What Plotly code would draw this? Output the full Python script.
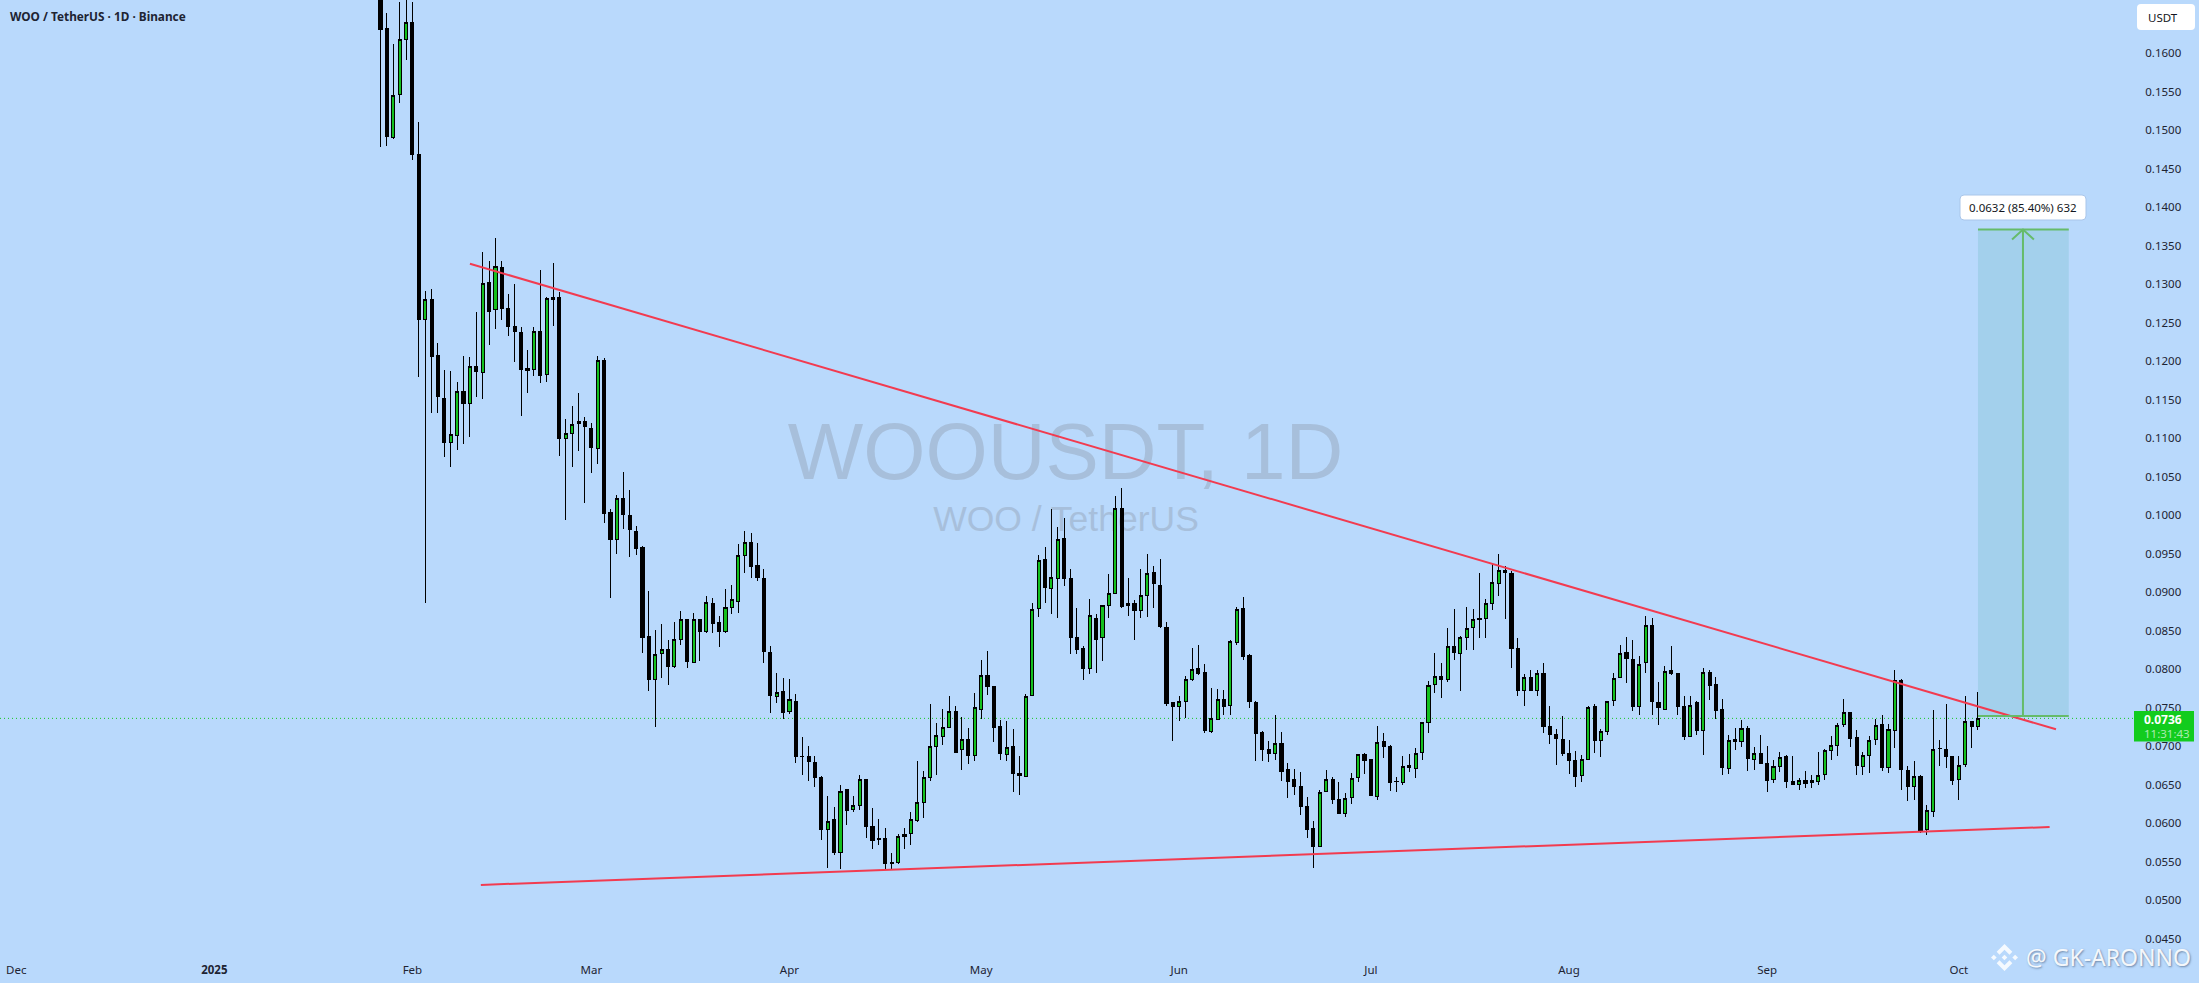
import pandas as pd
import plotly.graph_objects as go

# ── Theme ────────────────────────────────────────────────────────────────
BG = "#B9D9FC"
UP = "#14C01E"
DOWN = "#000000"
RED = "#F23B50"
TARGET = "#66BB6A"
TEXT = "#1E2433"
WATERMARK = "#A7BFDB"
FONT = "Noto Sans, sans-serif"

W, H = 2199, 983
PLOT_W, PLOT_H = 2134, 955

# ── Daily candles from 27 Jan 2025 ───────────────────────────────────────
first_day = "2025-01-27"

opens = [
    .178, .1632, .1491, .1547, .1618, .1640, .1468, .1254, .1280, .1207,
    .1152, .1095, .1103, .1160, .1145, .1193, .1185, .1302, .1267, .1322,
    .1269, .1245, .1237, .1190, .1189, .1239, .1183, .1280, .1283, .1100,
    .1106, .1119, .1122, .1113, .1086, .1201, .1004, .0968, .1021, .1000,
    .0979, .0958, .0843, .0787, .0820, .0826, .0804, .0839, .0865, .0808,
    .0865, .0849, .0885, .0860, .0849, .0880, .0888, .0947, .0964, .0934,
    .0918, .0821, .0765, .0771, .0745, .0758, .0687, .0687, .0679, .0659,
    .0591, .0604, .0562, .0643, .0617, .0623, .0656, .0596, .0578, .0580,
    .0549, .0549, .0583, .0587, .0603, .0627, .0659, .0700, .0713, .0724,
    .0745, .0695, .0709, .0688, .0748, .0792, .0778, .0725, .0689, .0699,
    .0665, .0661, .0766, .0879, .0943, .0905, .0918, .0970, .0918, .0841,
    .0827, .0801, .0866, .0841, .0882, .0898, .1008, .0882, .0885, .0876,
    .0895, .0926, .0909, .0854, .0756, .0751, .0758, .0787, .0801, .0796,
    .0719, .0734, .0760, .0753, .0835, .0879, .0818, .0757, .0717, .0696,
    .0690, .0704, .0669, .0656, .0648, .0622, .0593, .0570, .0641, .0657,
    .0630, .0612, .0633, .0659, .0689, .0682, .0635, .0706, .0700, .06545,
    .0653, .0675, .0671, .0692, .0730, .0780, .0791, .0786, .0830, .0820,
    .0841, .0854, .0866, .0866, .0885, .0911, .0928, .0924, .0827, .0772,
    .0789, .0772, .0794, .0726, .0715, .0709, .0691, .0681, .0662, .0683,
    .0752, .0707, .0719, .0759, .0789, .0822, .0813, .0752, .0808, .0856,
    .0757, .0748, .0798, .0794, .0752, .0713, .0756, .0720, .0796, .0780,
    .0748, .0671, .0708, .0706, .0723, .0683, .0691, .0678, .0656, .0674,
    .0687, .0654, .0650, .0655, .0653, .0654, .0663, .0694, .0701, .0728,
    .0743, .0711, .0674, .0688, .0709, .0728, .0672, .0720, .0785, .0668,
    .0648, .0661, .0591, .0615, .06975, .0696, .0687, .0656, .0676, .0732, .0726,
]
highs = [
    .18, .1652, .1612, .1667, .1690, .1667, .1511, .1291, .1294, .1224,
    .1188, .1187, .1173, .1207, .1205, .1264, .1342, .1330, .1360, .1330,
    .1287, .1300, .1245, .1215, .1245, .1318, .1283, .1328, .1290, .1125,
    .1142, .1159, .1127, .1120, .1207, .1204, .1008, .1026, .1056, .1033,
    .0986, .0960, .0901, .0851, .0859, .0838, .0861, .0876, .0865, .0873,
    .0865, .0895, .0892, .0869, .0904, .0909, .0963, .0979, .0977, .0964,
    .0930, .0830, .0795, .0788, .0787, .0768, .0712, .0700, .0687, .0661,
    .0635, .0621, .0649, .0643, .0635, .0662, .0657, .0620, .0605, .0594,
    .0561, .0586, .0594, .0614, .0681, .0668, .0755, .0730, .0748, .0765,
    .0752, .0738, .0724, .0769, .0812, .0824, .0778, .0734, .0733, .0722,
    .0687, .0768, .0886, .0948, .0959, .1008, .0985, .0996, .0930, .0879,
    .0830, .0891, .0872, .0883, .0924, .1025, .1035, .0918, .0890, .0930,
    .0950, .0934, .0943, .0861, .0756, .0765, .0791, .0828, .0831, .0807,
    .0776, .0774, .0773, .0838, .0881, .0894, .0820, .0759, .0720, .0707,
    .0740, .0718, .0678, .0670, .0666, .0634, .0603, .0643, .0669, .0660,
    .0653, .0639, .0665, .0690, .0691, .0682, .0726, .0717, .0701, .0660,
    .0687, .0690, .0698, .0730, .0784, .0821, .0808, .0853, .0878, .0843,
    .0881, .0878, .0925, .0891, .0938, .0949, .0934, .0927, .0840, .0793,
    .0799, .0799, .0808, .0752, .0722, .0739, .0708, .0694, .0688, .0752,
    .0755, .0722, .0759, .0795, .0831, .0842, .0838, .0817, .0869, .0866,
    .0783, .0804, .0830, .0794, .0765, .0765, .0759, .0801, .0799, .0790,
    .0761, .0714, .0724, .0734, .0726, .0699, .0714, .0700, .0682, .0692,
    .0688, .0687, .0659, .0668, .0663, .0692, .0696, .0713, .0730, .0761,
    .0744, .0721, .0692, .0713, .0735, .0740, .0729, .0799, .0787, .0674,
    .0681, .0662, .0624, .0747, .0708, .0755, .0687, .0687, .0765, .0732, .0770,
]
lows = [
    .1478, .1480, .1489, .1536, .1591, .1461, .1179, .0886, .1133, .1133,
    .1075, .1062, .1084, .1092, .1102, .1154, .1151, .1221, .1242, .1253,
    .1233, .1199, .1129, .1159, .1181, .1172, .1173, .1246, .1077, .0994,
    .1063, .1083, .1016, .1055, .1067, .0990, .0892, .0950, .0982, .0946,
    .0948, .0821, .0771, .0725, .0789, .0779, .0802, .0831, .0801, .0808,
    .0810, .0847, .0847, .0829, .0847, .0872, .0873, .0925, .0919, .0914,
    .0808, .0743, .0756, .0735, .0742, .0678, .0662, .0654, .0647, .0578,
    .0541, .0559, .0540, .0597, .0614, .0617, .0580, .0566, .0572, .0540,
    .0540, .0547, .0566, .0571, .0602, .0606, .0654, .0662, .0701, .0723,
    .0691, .0669, .0677, .0681, .0735, .0766, .0705, .0682, .0680, .0640,
    .0637, .0661, .0766, .0868, .0886, .0872, .0866, .0908, .0819, .0819,
    .0786, .0794, .0795, .0810, .0866, .0898, .0879, .0869, .0838, .0867,
    .0868, .0880, .0854, .0752, .0706, .0732, .0737, .0785, .0792, .0717,
    .0717, .0734, .0740, .0740, .0831, .0812, .0750, .0681, .0681, .0679,
    .0682, .0654, .0633, .0636, .0610, .0580, .0541, .0570, .0640, .0625,
    .0612, .0608, .0625, .0653, .0664, .0636, .0630, .0685, .0642, .0640,
    .0649, .0666, .0659, .0682, .0717, .0769, .0762, .0783, .0812, .0772,
    .0825, .0825, .0841, .0841, .0877, .0895, .0865, .0802, .0765, .0752,
    .0772, .0765, .0717, .0703, .0676, .0687, .0664, .0647, .0653, .0683,
    .0691, .0686, .0715, .0752, .0788, .0782, .0745, .0741, .0795, .0740,
    .0727, .0748, .0792, .0740, .0708, .0713, .0715, .0688, .0760, .0735,
    .0662, .0664, .0695, .0699, .0668, .0669, .0677, .0641, .0652, .0666,
    .0646, .0649, .0643, .0645, .0645, .0649, .0656, .0682, .0687, .0725,
    .0699, .0662, .0663, .0665, .0701, .0668, .0665, .0698, .0643, .0629,
    .0630, .0587, .0584, .0608, .0674, .0671, .0649, .0630, .0673, .0698, .0721,
]
closes = [
    .1631, .1492, .1545, .1618, .1640, .1468, .1254, .1280, .1206, .1154,
    .1095, .1105, .1160, .1145, .1193, .1186, .1301, .1265, .1323, .1269,
    .1245, .1238, .1189, .1188, .1239, .1181, .1281, .1283, .1100, .1106,
    .1118, .1122, .1115, .1088, .1201, .1002, .0968, .1021, .1001, .0981,
    .0957, .0841, .0786, .0819, .0826, .0803, .0839, .0865, .0810, .0865,
    .0849, .0887, .0859, .0849, .0880, .0891, .0947, .0964, .0933, .0919,
    .0823, .0766, .0769, .0743, .0760, .0686, .0686, .0680, .0659, .0591,
    .0602, .0562, .0641, .0616, .0623, .0656, .0595, .0577, .0580, .0547,
    .0548, .0582, .0585, .0604, .0627, .0659, .0700, .0714, .0724, .0745,
    .0692, .0709, .0688, .0750, .0792, .0777, .0724, .0690, .0698, .0664,
    .0662, .0764, .0878, .0941, .0906, .0919, .0969, .0918, .0841, .0825,
    .0801, .0869, .0838, .0882, .0898, .1008, .0881, .0885, .0876, .0895,
    .0924, .0911, .0855, .0755, .0751, .0758, .0787, .0800, .0794, .0720,
    .0736, .0760, .0751, .0836, .0878, .0816, .0758, .0716, .0695, .0690,
    .0704, .0667, .0654, .0647, .0621, .0591, .0569, .0640, .0657, .0630,
    .0612, .0632, .0658, .0689, .0681, .0636, .0705, .0699, .0653, .0654,
    .0673, .0672, .0691, .0730, .0779, .0791, .0786, .0830, .0821, .0841,
    .0853, .0865, .0864, .0885, .0913, .0928, .0926, .0827, .0772, .0789,
    .0772, .0794, .0725, .0715, .0710, .0690, .0681, .0660, .0683, .0750,
    .0707, .0719, .0758, .0788, .0820, .0814, .0751, .0806, .0856, .0758,
    .0750, .0797, .0794, .0751, .0712, .0753, .0720, .0796, .0779, .0746,
    .0672, .0707, .0706, .0723, .0684, .0690, .0677, .0655, .0674, .0685,
    .0654, .0650, .0655, .0651, .0655, .0662, .0694, .0701, .0727, .0743,
    .0710, .0675, .0688, .0707, .0727, .0672, .0722, .0785, .0669, .0647,
    .0661, .0589, .0616, .0696, .0697, .0687, .0655, .0675, .0732, .0725, .0736,
]
dates = pd.date_range(first_day, periods=len(closes), freq="D")

# ── Axis ticks ───────────────────────────────────────────────────────────
x_range = ["2024-11-28 11:00", "2025-10-28 10:00"]
y_range = [0.04286, 0.16692]
x_ticks = ["2024-12-01", "2025-01-01", "2025-02-01", "2025-03-01", "2025-04-01", "2025-05-01",
           "2025-06-01", "2025-07-01", "2025-08-01", "2025-09-01", "2025-10-01"]
x_labels = ["Dec", "<b>2025</b>", "Feb", "Mar", "Apr", "May", "Jun", "Jul", "Aug", "Sep", "Oct"]
y_ticks = [0.0450, 0.0500, 0.0550, 0.0600, 0.0650, 0.0700, 0.0750, 0.0800, 0.0850, 0.0900,
           0.0950, 0.1000, 0.1050, 0.1100, 0.1150, 0.1200, 0.1250, 0.1300, 0.1350, 0.1400,
           0.1450, 0.1500, 0.1550, 0.1600]

# ── Drawings ─────────────────────────────────────────────────────────────
upper_dates = ["2025-02-10 00:00", "2025-10-16 05:00"]
upper_prices = [0.13266, 0.07218]
lower_dates = ["2025-02-11 17:00", "2025-10-15 05:00"]
lower_prices = [0.05196, 0.05949]

last_price = 0.0736
target_dates = ["2025-10-04 00:00", "2025-10-18 05:00"]
target_prices = [0.0739, 0.1371]
arrow_date = "2025-10-11 01:00"
arrow_head_dates = ["2025-10-09 08:00", "2025-10-11 01:00", "2025-10-12 18:00"]
arrow_head_prices = [0.1358, 0.1371, 0.1358]


def px(x):
    return x / PLOT_W


def py(y):
    return 1 - y / PLOT_H


def rounded_box(x0, y0, x1, y1, r, fill, line=None):
    """Rounded rectangle given in page pixels, as a paper-referenced shape."""
    pts = (f"M {px(x0 + r)} {py(y0)} L {px(x1 - r)} {py(y0)} Q {px(x1)} {py(y0)} {px(x1)} {py(y0 + r)} "
           f"L {px(x1)} {py(y1 - r)} Q {px(x1)} {py(y1)} {px(x1 - r)} {py(y1)} "
           f"L {px(x0 + r)} {py(y1)} Q {px(x0)} {py(y1)} {px(x0)} {py(y1 - r)} "
           f"L {px(x0)} {py(y0 + r)} Q {px(x0)} {py(y0)} {px(x0 + r)} {py(y0)} Z")
    return dict(type="path", xref="paper", yref="paper", path=pts, fillcolor=fill,
                line=dict(color=line or fill, width=1 if line else 0))


def polygon(points, cx, cy, size, fill):
    pts = " L ".join(f"{px(cx + a * size)} {py(cy + b * size)}" for a, b in points)
    return dict(type="path", xref="paper", yref="paper", path=f"M {pts} Z",
                fillcolor=fill, line=dict(width=0))


def text_note(x, y, text, size=12, color=TEXT, anchor="left", family=FONT, **font_extra):
    return dict(xref="paper", yref="paper", x=px(x), y=py(y), text=text, showarrow=False,
                xanchor=anchor, yanchor="middle",
                font=dict(family=family, size=size, color=color, **font_extra))


fig = go.Figure()

fig.add_trace(go.Candlestick(
    x=dates, open=opens, high=highs, low=lows, close=closes,
    increasing=dict(fillcolor=UP, line=dict(color=DOWN, width=1)),
    decreasing=dict(fillcolor=DOWN, line=dict(color=DOWN, width=1)),
    whiskerwidth=0, hoverinfo="skip",
))

for xs, ys in [(upper_dates, upper_prices), (lower_dates, lower_prices)]:
    fig.add_trace(go.Scatter(x=xs, y=ys, mode="lines", line=dict(color=RED, width=2), hoverinfo="skip"))

# Long position projection
for price in target_prices:
    fig.add_trace(go.Scatter(x=target_dates, y=[price, price], mode="lines",
                             line=dict(color=TARGET, width=2), hoverinfo="skip"))
fig.add_trace(go.Scatter(x=[arrow_date, arrow_date], y=target_prices, mode="lines",
                         line=dict(color=TARGET, width=2), hoverinfo="skip"))
fig.add_trace(go.Scatter(x=arrow_head_dates, y=arrow_head_prices, mode="lines",
                         line=dict(color=TARGET, width=2), hoverinfo="skip"))

shapes = [
    # watermarks sit under the candles
    dict(type="rect", xref="paper", yref="paper", x0=px(765), x1=px(1366), y0=py(503), y1=py(383),
         layer="below", line=dict(width=0), fillcolor="rgba(0,0,0,0)",
         label=dict(text="WOOUSDT, 1D", textposition="middle center",
                    font=dict(family="Liberation Sans", size=80, color=WATERMARK))),
    dict(type="rect", xref="paper", yref="paper", x0=px(900), x1=px(1232), y0=py(535), y1=py(495),
         layer="below", line=dict(width=0), fillcolor="rgba(0,0,0,0)",
         label=dict(text="WOO / TetherUS", textposition="middle center",
                    font=dict(family="Liberation Sans", size=35.5, color=WATERMARK))),
    dict(type="rect", x0=target_dates[0], x1=target_dates[1], y0=target_prices[0], y1=target_prices[1],
         layer="below", fillcolor="#A3D0EC", line=dict(width=0)),
    dict(type="line", xref="paper", x0=0, x1=1, y0=last_price, y1=last_price, layer="below",
         line=dict(color="#14C81E", width=1, dash="1px,3px")),
    rounded_box(1960, 195, 2086, 220, 4, "#FFFFFF", line="#A9C6EA"),
    rounded_box(2137, 4, 2195, 30, 4, "#FFFFFF"),
    dict(type="rect", xref="paper", yref="paper", x0=px(2134), x1=px(2194), y0=py(741.5), y1=py(711),
         fillcolor="#12CC1E", line=dict(width=0)),
]

# Binance logo beside the author tag
LOGO = "rgba(255,255,255,0.85)"
chevron_top = [(0, -1), (.58, -.42), (.37, -.21), (0, -.58), (-.37, -.21), (-.58, -.42)]
chevron_bottom = [(a, -b) for a, b in chevron_top]
diamond_mid = [(0, -.21), (.21, 0), (0, .21), (-.21, 0)]
diamond_left = [(-.79, -.21), (-.58, 0), (-.79, .21), (-1, 0)]
diamond_right = [(.79, -.21), (1, 0), (.79, .21), (.58, 0)]
for part in (chevron_top, chevron_bottom, diamond_mid, diamond_left, diamond_right):
    shapes.append(polygon(part, 2004.5, 957.5, 13.5, LOGO))

annotations = [
    text_note(8, 16.5, "<b>WOO / TetherUS · 1D · Binance</b>", size=11.8),
    text_note(2023, 207.5, "0.0632 (85.40%) 632", size=11.5, anchor="center", color="#131722"),
    text_note(2146, 17, "USDT", size=11.5, color="#131722"),
    text_note(2142, 719.5, "<b>0.0736</b>", size=12, color="#FFFFFF"),
    text_note(2142, 733, "11:31:43", size=11.5, color="rgba(255,255,255,0.65)"),
    text_note(2024, 957, "@ GK-ARONNO", size=23, color="rgba(255,255,255,0.92)",
              shadow="1px 1px 2px rgba(40,60,90,0.55)"),
]

fig.update_layout(
    width=W, height=H,
    margin=dict(l=0, r=W - PLOT_W, t=0, b=H - PLOT_H),
    paper_bgcolor=BG, plot_bgcolor=BG,
    font=dict(family=FONT, size=11.5, color=TEXT),
    showlegend=False, hovermode=False, dragmode=False,
    shapes=shapes, annotations=annotations,
)
fig.update_xaxes(
    range=x_range, rangeslider_visible=False, showgrid=False, zeroline=False, showline=False,
    tickmode="array", tickvals=x_ticks, ticktext=x_labels,
    ticks="outside", ticklen=4, tickcolor="rgba(0,0,0,0)",
)
fig.update_yaxes(
    range=y_range, side="right", showgrid=False, zeroline=False, showline=False,
    tickmode="array", tickvals=y_ticks, tickformat=".4f",
    ticks="outside", ticklen=8, tickcolor="rgba(0,0,0,0)",
)

fig.write_html(
    "out.html",
    config=dict(displayModeBar=False),
    post_script=("document.body.style.margin='0';document.body.style.overflow='hidden';"
                 "document.querySelectorAll('.boxlayer path').forEach(p=>p.style.shapeRendering='crispEdges');"),
)
